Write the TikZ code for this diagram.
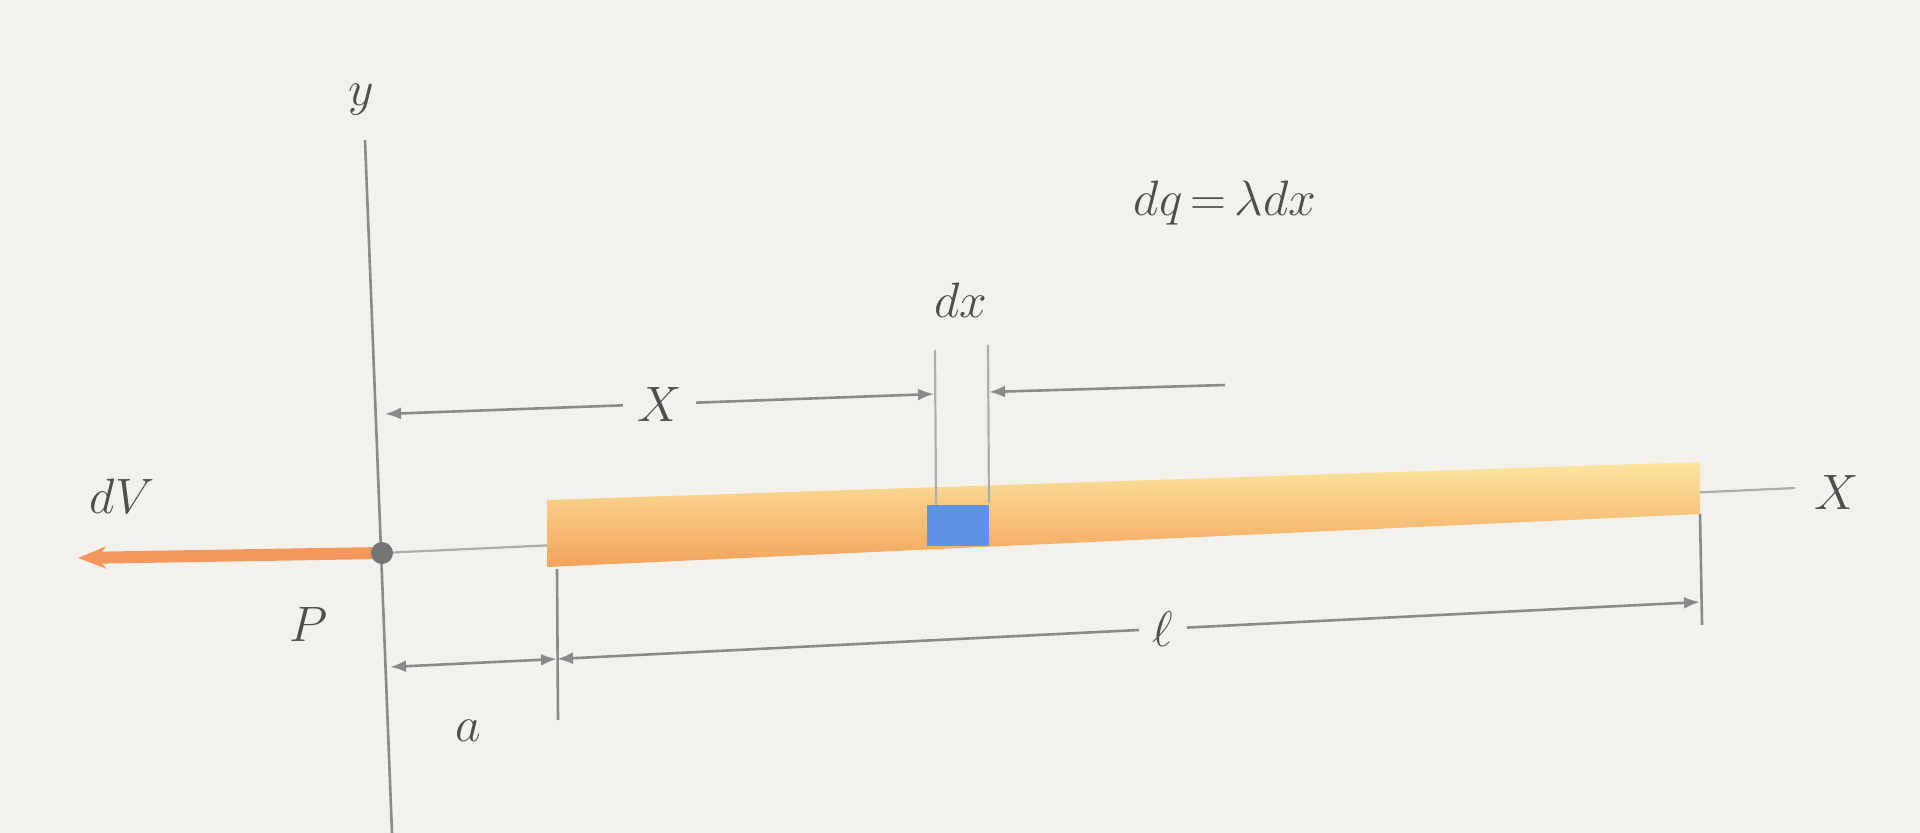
\documentclass[tikz,border=0pt]{standalone}
\usetikzlibrary{arrows.meta}
\definecolor{paper}{HTML}{F3F1EC}
\definecolor{pencil}{HTML}{8A8A8A}
\definecolor{ink}{HTML}{4E4E4E}
\definecolor{rodtop}{HTML}{FBE6A0}
\definecolor{rodbot}{HTML}{F4A25A}
\definecolor{blueq}{HTML}{5E93E6}
\definecolor{vecor}{HTML}{F3975C}
\begin{document}
\begin{tikzpicture}[x=0.5pt,y=-0.5pt,
  >={Latex[length=8pt,width=6pt]},
  pline/.style={draw=pencil,line width=1.3pt},
  faint/.style={draw=pencil!70,line width=1.1pt},
  lbl/.style={text=ink,font=\fontsize{36}{40}\selectfont,inner sep=0pt},
  gap/.style={fill=paper,inner sep=7pt}]
\fill[paper] (0,0) rectangle (1920,833);
\useasboundingbox (0,0) rectangle (1920,833);
% key points
\coordinate (yT) at (365,140);
\coordinate (yB) at (392,833);
\coordinate (P) at (382,553);
\coordinate (xE) at (1795,488);
\coordinate (vL) at (78,558);
% axes
\draw[pline] (yT) -- (yB);
\draw[faint] (P) -- (xE);
% rod
\shade[top color=rodtop,bottom color=rodbot] (547,500) -- (1700,462) -- (1700,514) -- (547,567) -- cycle;
% charge element
\node (dqel) [fill=blueq,minimum width=31pt,minimum height=20.5pt,inner sep=0pt] at (958,525) {};
% field/potential vector
\draw[vecor,line width=6pt,-{Stealth[length=14pt,width=11pt]}] (P) -- (vL);
\fill[pencil!85!black] (P) circle (5.5pt);
% dx ticks
\coordinate (dxLt) at (935,350);
\coordinate (dxLb) at (936,505);
\coordinate (dxRt) at (988,345);
\coordinate (dxRb) at (989,503);
\draw[faint] (dxLt) -- (dxLb);
\draw[faint] (dxRt) -- (dxRb);
% x dimension
\coordinate (xdL) at (385,414);
\coordinate (xdR) at (934,394);
\draw[pline,<->] (xdL) -- node[lbl,gap] (xl) {$X$} (xdR);
\coordinate (dxA) at (1225,385);
\coordinate (dxB) at (989,392);
\draw[pline,->] (dxA) -- (dxB);
% rod end ticks
\coordinate (rLt) at (557,569);
\coordinate (rLb) at (558,720);
\coordinate (rRt) at (1700,514);
\coordinate (rRb) at (1702,625);
\draw[pline] (rLt) -- (rLb);
\draw[pline] (rRt) -- (rRb);
% a and l dimensions
\coordinate (aL) at (390,667);
\coordinate (aR) at (557,659);
\coordinate (lR) at (1700,602);
\draw[pline,<->] (aL) -- (aR);
\draw[pline,<->] (aR) -- node[lbl,gap,pos=0.53] (ll) {$\ell$} (lR);
% labels
\node[lbl] (ylab) at (361,100) {$y$};
\node[lbl] (Xlab) at (1837,492) {$X$};
\node[lbl] (dVlab) at (122,496) {$dV$};
\node[lbl] (Plab) at (309,624) {$P$};
\node[lbl] (alab) at (468,731) {$a$};
\node[lbl] (dxlab) at (961,300) {$dx$};
\node[lbl] (dqlab) at (1225,203) {$dq\,{=}\,\lambda dx$};
\end{tikzpicture}
\end{document}
